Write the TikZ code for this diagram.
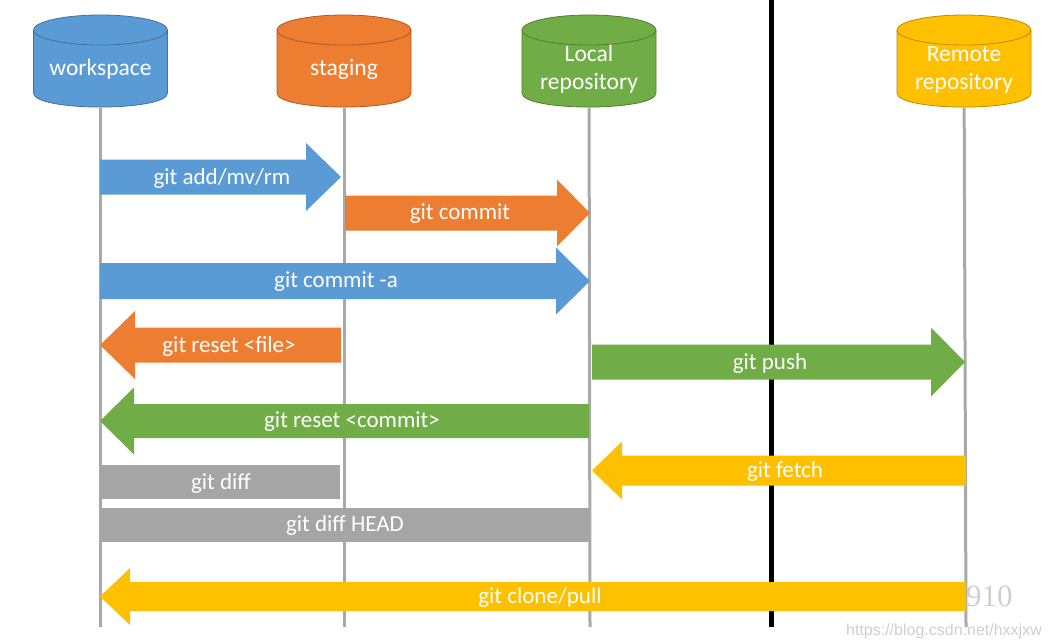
\documentclass[tikz,border=0pt]{standalone}
\usepackage{fontspec}
\setmainfont{Carlito}
\setsansfont{Liberation Sans}
\newfontfamily\wmserif{Liberation Serif}
\definecolor{cblue}{HTML}{5B9BD5}
\definecolor{cblueD}{HTML}{41719C}
\definecolor{corange}{HTML}{ED7D31}
\definecolor{corangeD}{HTML}{AE5A21}
\definecolor{cgreen}{HTML}{70AD47}
\definecolor{cgreenD}{HTML}{507E32}
\definecolor{cyellow}{HTML}{FFC000}
\definecolor{cyellowD}{HTML}{BC8C00}
\definecolor{cgray}{HTML}{A5A5A5}
\definecolor{lifegray}{HTML}{A9A9A9}
\definecolor{wmgray}{HTML}{CFCFCF}
\tikzset{
  lifeline/.style={draw=lifegray, line width=3pt},
  sepline/.style={draw=black, line width=5pt},
  lbl/.style={text=white, font=\fontsize{23}{28}\selectfont, inner sep=0pt, align=center},
  cyllbl/.style={lbl, font=\fontsize{23.5}{28}\selectfont},
  cylbox/.style={inner sep=0pt, minimum width=134pt, minimum height=93pt},
}
% name, cx, fill, border, text
\newcommand{\dbcyl}[5]{%
  \fill[#3] (#2-67,30) -- (#2-67,93) .. controls (#2-67,111.7) and (#2+67,111.7) .. (#2+67,93) -- (#2+67,30) -- cycle;
  \draw[#4, line width=0.8pt] (#2-67,30) -- (#2-67,93) .. controls (#2-67,111.7) and (#2+67,111.7) .. (#2+67,93) -- (#2+67,30);
  \filldraw[fill=#3, draw=#4, line width=0.8pt] (#2,30) ellipse[x radius=67, y radius=15];
  \node[cylbox] (#1) at (#2,61) {};
  \node[cyllbl] (#1-t) at (#2,69.5) {#5};
}
% right arrow: x1, x2(tip), y, half body, half head, head length, colour
\newcommand{\rarr}[7]{%
  \fill[#7] (#1,#3-#4) -- (#2-#6,#3-#4) -- (#2-#6,#3-#5) -- (#2,#3) -- (#2-#6,#3+#5) -- (#2-#6,#3+#4) -- (#1,#3+#4) -- cycle;
}
% left arrow: x1(tip), x2, y, half body, half head, head length, colour
\newcommand{\larr}[7]{%
  \fill[#7] (#2,#3-#4) -- (#1+#6,#3-#4) -- (#1+#6,#3-#5) -- (#1,#3) -- (#1+#6,#3+#5) -- (#1+#6,#3+#4) -- (#2,#3+#4) -- cycle;
}
\begin{document}
\begin{tikzpicture}[x=1pt,y=-1pt]
\useasboundingbox (0,0) rectangle (1051,641);
% lifeline ends
\coordinate (ws-end) at (100.5,627);
\coordinate (st-end) at (344,627);
\coordinate (lr-end) at (590,627);
\coordinate (rr-end) at (966,627);
\coordinate (sep-top) at (771,0);
\coordinate (sep-bot) at (771,627);
% cylinders
\dbcyl{ws}{100.5}{cblue}{cblueD}{workspace}
\dbcyl{st}{344}{corange}{corangeD}{staging}
\dbcyl{lr}{589}{cgreen}{cgreenD}{Local\\repository}
\dbcyl{rr}{964}{cyellow}{cyellowD}{Remote\\repository}
% lifelines
\draw[lifeline] (ws) -- (ws-end);
\draw[lifeline] (st) -- (st-end);
\draw[lifeline] (lr) -- (lr-end);
\draw[lifeline] (rr) -- (rr-end);
\draw[sepline] (sep-top) -- (sep-bot);
% watermark
\node[font=\wmserif\fontsize{31}{31}\selectfont, text=wmgray, anchor=west, inner sep=0pt] (wm1) at (966,596) {910};
\node[font=\sffamily\fontsize{16}{16}\selectfont, text=wmgray, anchor=east, inner sep=0pt] (wm2) at (1042,631) {https://blog.csdn.net/hxxjxw};
% arrows
\rarr{100}{341}{177}{17.5}{34}{35}{cblue}
\node[lbl] (add) at (222,178) {git add/mv/rm};
\rarr{345}{590}{213}{17.5}{33.5}{33}{corange}
\node[lbl] (commit) at (460,214) {git commit};
\rarr{100}{590}{281}{18}{33.5}{34}{cblue}
\node[lbl] (commita) at (336,282) {git commit -a};
\larr{100}{341}{345}{17.5}{34}{35}{corange}
\node[lbl] (resetf) at (229,346) {git reset <file>};
\rarr{592}{965}{362}{17.5}{34.5}{34}{cgreen}
\node[lbl] (push) at (770,363) {git push};
\larr{100}{589}{421}{17}{33.5}{34}{cgreen}
\node[lbl] (resetc) at (352,422) {git reset <commit>};
\larr{592}{966}{470.5}{15}{29}{30}{cyellow}
\node[lbl] (fetch) at (785,471) {git fetch};
\fill[cgray] (100,465) rectangle (340,499);
\node[lbl] (diff) at (221,483) {git diff};
\fill[cgray] (100,508) rectangle (589,542);
\node[lbl] (diffh) at (345,525) {git diff HEAD};
\larr{100}{966}{596.5}{14.5}{28.5}{30}{cyellow}
\node[lbl] (clone) at (540,597) {git clone/pull};
\end{tikzpicture}
\end{document}
